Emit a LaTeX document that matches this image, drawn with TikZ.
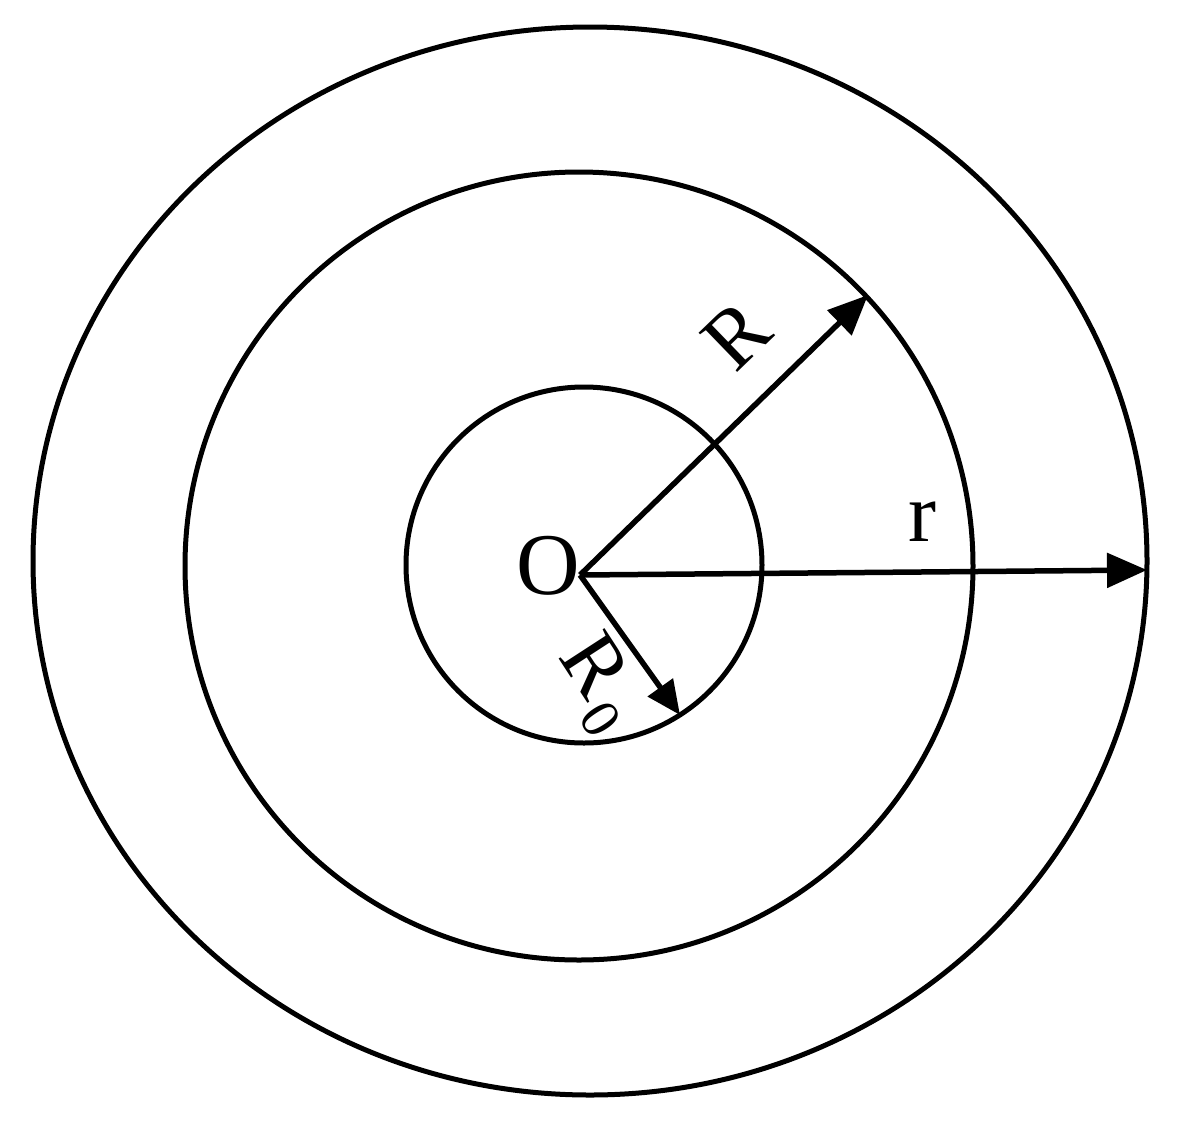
\documentclass[tikz,border=0pt]{standalone}
\usepackage{fontspec}
\setmainfont{Liberation Serif}
\usetikzlibrary{arrows.meta,positioning}

\begin{document}
\begin{tikzpicture}[x=1pt, y=-1pt, line width=5pt,
 >={Triangle[length=40pt,width=34pt]},
 lbl/.style={font=\fontsize{84}{84}\selectfont, inner sep=0pt}]
\useasboundingbox (0,0) rectangle (1181,1128);
% rings
\draw (590,561) ellipse [x radius=557, y radius=534];
\draw (579,566) circle [radius=394];
\draw (584,565) circle [radius=178];
% radii
\coordinate (O) at (580,575);
\coordinate (tipR) at (868,295);
\coordinate (tipr) at (1147,570);
\coordinate (tipRo) at (680,715);
\draw[->, line width=5.5pt] (O) -- (tipR);
\draw[->, line width=5.5pt] (O) -- (tipr);
\draw[-{Triangle[length=34pt,width=30pt]}, line width=5.5pt] (O) -- (tipRo);
\node[lbl, font=\fontsize{88}{88}\selectfont] (lblO) at (548,566) {O};
\node[lbl, rotate=44] (lblR) at (737,335) {R};
\node[lbl] (lblr) at (922,522) {r};
\node[lbl, rotate=-57] (lblRo) at (598,684) {R\kern0.06em\lower0.2em\hbox{\fontsize{56}{56}\selectfont 0}};
\end{tikzpicture}
\end{document}
